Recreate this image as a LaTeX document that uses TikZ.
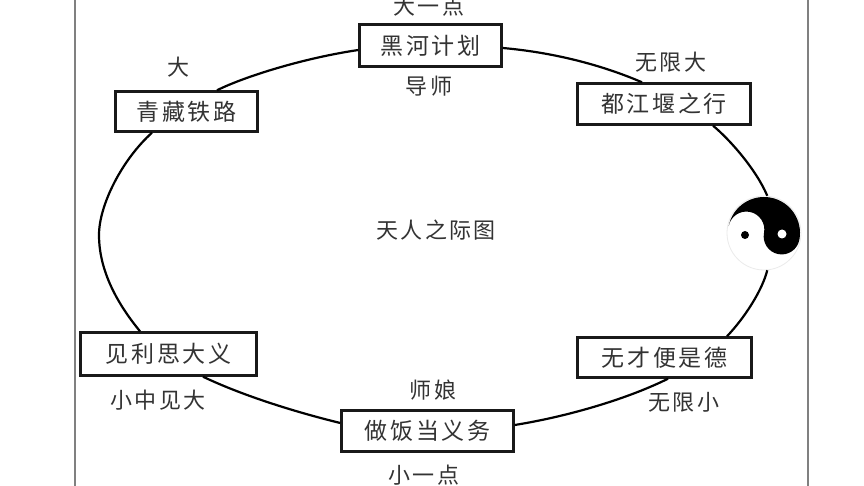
\documentclass[tikz,border=0pt]{standalone}
\usepackage{fontspec}
\setmainfont{Noto Sans CJK SC}
\newfontfamily\boxfont[LetterSpace=11]{Noto Sans CJK SC}
\newfontfamily\labfont[LetterSpace=10]{Noto Sans CJK SC}
\tikzset{
  x=1pt,y=-1pt,
  boxn/.style={draw=black!90,line width=2.4pt,fill=white,inner sep=0pt,font=\boxfont\fontsize{23}{25}\selectfont,text=black!80},
  lab/.style={inner sep=0pt,font=\labfont\fontsize{22}{24}\selectfont,text=black!80},
  ring/.style={draw=black,line width=2.2pt},
  frame/.style={draw=black!50,line width=1.6pt},
  taijinode/.style={circle,draw=black!8,line width=.8pt,fill=white,minimum size=74pt,inner sep=0pt}
}
\begin{document}
\begin{tikzpicture}
\useasboundingbox (0,0) rectangle (864,486);
\fill[white] (0,0) rectangle (864,486);
\coordinate (fl1) at (75,0); \coordinate (fl2) at (75,486);
\coordinate (fr1) at (808,0); \coordinate (fr2) at (808,486);
\draw[frame] (fl1) -- (fl2);
\draw[frame] (fr1) -- (fr2);
\node[boxn,minimum width=142,minimum height=42] (heihe) at (430.5,45.5) {黑河计划};
\node[boxn,minimum width=173,minimum height=41] (dujiang) at (664,104) {都江堰之行};
\node[boxn,minimum width=142,minimum height=40] (qingzang) at (186.5,111.5) {青藏铁路};
\node[boxn,minimum width=176,minimum height=43] (jianli) at (168.5,354) {见利思大义};
\node[boxn,minimum width=174,minimum height=40] (wucai) at (664.5,357.5) {无才便是德};
\node[boxn,minimum width=172,minimum height=41] (zuofan) at (427.5,431) {做饭当义务};
\node[taijinode] (taiji) at (764,233) {};
\coordinate (ringleft) at (99,235);
\draw[ring] ([yshift=-2.5pt]heihe.east) .. controls +(46,4) and +(-44,-19) .. ([xshift=-22pt]dujiang.north);
\draw[ring] ([xshift=49pt]dujiang.south) .. controls +(17,14) and +(-11,-26) .. (taiji.85);
\draw[ring] (taiji.-85) .. controls +(-5,20) and +(18,-19) .. ([xshift=62.5pt]wucai.north);
\draw[ring] ([xshift=3.5pt]wucai.south) .. controls +(-38,19) and +(56,-9) .. ([yshift=6pt]zuofan.east);
\draw[ring] ([yshift=8pt]zuofan.west) .. controls +(-41,-10) and +(42,20) .. ([xshift=34.5pt]jianli.south);
\draw[ring] ([xshift=-28.5pt]jianli.north) .. controls +(-18,-22) and +(0,40) .. (ringleft) .. controls +(0,-30) and +(-30,27) .. ([xshift=-34.5pt]qingzang.south);
\draw[ring] ([xshift=30.5pt]qingzang.north) .. controls +(28,-14) and +(-54,8) .. ([yshift=-4.5pt]heihe.west);
\node[lab] (t1) at (429,6) {大一点};
\node[lab] (t2) at (429,86) {导师};
\node[lab] (t3) at (178,67) {大};
\node[lab] (t4) at (671,62) {无限大};
\node[lab] (t5) at (436,230) {天人之际图};
\node[lab] (t6) at (158,400) {小中见大};
\node[lab] (t7) at (433,390) {师娘};
\node[lab] (t8) at (684,402) {无限小};
\node[lab] (t9) at (424,475) {小一点};
\begin{scope}[shift={(764,233)},y=1pt]
\begin{scope}[rotate=-11]
\fill[black] (-36,0) arc[start angle=180,end angle=0,radius=36] arc[start angle=0,end angle=-180,radius=18] arc[start angle=0,end angle=180,radius=18] -- cycle;
\end{scope}
\fill[black] (-19,-2) circle (4);
\fill[white] (18,-1) circle (4.5);
\end{scope}
\end{tikzpicture}
\end{document}
